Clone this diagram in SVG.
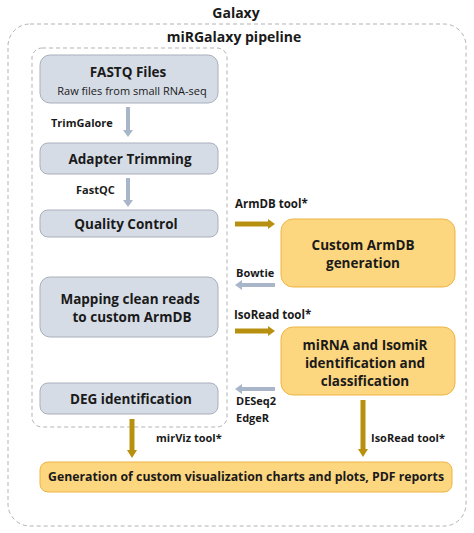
<svg xmlns="http://www.w3.org/2000/svg" width="474" height="533" viewBox="0 0 474 533">
<defs>
<style>
.t{font-family:"Open Sans","Liberation Sans",sans-serif;font-weight:bold;fill:#1a1a1a;text-anchor:middle}
.n{font-size:13.5px}
.l{font-family:"Open Sans","Liberation Sans",sans-serif;font-weight:bold;font-size:11px;fill:#1a1a1a}
.lr{font-size:11.5px}
.g rect{fill:#d6dce6;stroke:#a8b0bb;stroke-width:1}
.o rect{fill:#fdd680;stroke:#eeb443;stroke-width:1}
.dash{fill:none;stroke:#b3b3b3;stroke-width:1;stroke-dasharray:4 3}
.ga{stroke:#a9b6ca;stroke-width:4;fill:none}
.gh{fill:#a9b6ca}
.oa{stroke:#b8900f;stroke-width:5;fill:none}
.oh{fill:#b8900f}
</style>
</defs>
<rect width="474" height="533" fill="#ffffff"/>
<g id="galaxy">
<rect class="dash" x="8" y="24" width="458" height="502" rx="22"/>
<text class="t" x="236" y="18" font-size="14">Galaxy</text>
<text class="t" x="234" y="42" font-size="14">miRGalaxy pipeline</text>
</g>
<g id="pipeline">
<rect class="dash" x="32" y="48" width="195" height="379" rx="10"/>
</g>
<g id="fastq" class="g">
<rect x="40" y="55" width="178" height="48" rx="10"/>
<text class="t n" x="128" y="77">FASTQ Files</text>
<text x="132" y="95" font-family="'Open Sans','Liberation Sans',sans-serif" font-size="11" fill="#1a1a1a" text-anchor="middle">Raw files from small RNA-seq</text>
</g>
<g id="adapter" class="g">
<rect x="40" y="143" width="178" height="31" rx="8"/>
<text class="t n" x="130" y="164">Adapter Trimming</text>
</g>
<g id="qc" class="g">
<rect x="40" y="210" width="178" height="27" rx="8"/>
<text class="t n" x="126" y="229">Quality Control</text>
</g>
<g id="mapping" class="g">
<rect x="40" y="277" width="178" height="60" rx="10"/>
<text class="t n" x="130" y="304">Mapping clean reads</text>
<text class="t n" x="132" y="322">to custom ArmDB</text>
</g>
<g id="deg" class="g">
<rect x="40" y="383" width="178" height="31" rx="8"/>
<text class="t n" x="131" y="404">DEG identification</text>
</g>
<g id="armdb" class="o">
<rect x="281" y="219" width="174" height="68" rx="12"/>
<text class="t n" x="363" y="250">Custom ArmDB</text>
<text class="t n" x="363" y="268">generation</text>
</g>
<g id="isomir" class="o">
<rect x="281" y="327" width="174" height="68" rx="12"/>
<text class="t n" x="365" y="350">miRNA and IsomiR</text>
<text class="t n" x="365" y="368">identification and</text>
<text class="t n" x="365" y="386">classification</text>
</g>
<g id="report" class="o">
<rect x="40" y="462" width="412" height="30" rx="8"/>
<text class="t" x="246" y="481" font-size="12" textLength="396" lengthAdjust="spacingAndGlyphs">Generation of custom visualization charts and plots, PDF reports</text>
</g>
<g id="connectors">
<line class="ga" x1="128" y1="107" x2="128" y2="131"/>
<polygon class="gh" points="123,130 133,130 128,137"/>
<text class="l" x="51" y="127">TrimGalore</text>
<line class="ga" x1="128" y1="178" x2="128" y2="201"/>
<polygon class="gh" points="123,200 133,200 128,207"/>
<text class="l" x="76" y="194">FastQC</text>
<line class="oa" x1="235" y1="224" x2="269" y2="224"/>
<polygon class="oh" points="268,219 268,229 275,224"/>
<text class="l lr" x="235" y="208">ArmDB tool*</text>
<line class="ga" x1="275" y1="285" x2="241" y2="285"/>
<polygon class="gh" points="242,280 242,290 235,285"/>
<text class="l" x="236" y="277">Bowtie</text>
<line class="oa" x1="235" y1="331" x2="269" y2="331"/>
<polygon class="oh" points="268,326 268,336 275,331"/>
<text class="l lr" x="234" y="319">IsoRead tool*</text>
<line class="ga" x1="275" y1="389" x2="241" y2="389"/>
<polygon class="gh" points="242,384 242,394 235,389"/>
<text class="l" x="236" y="405">DESeq2</text>
<text class="l" x="236" y="422">EdgeR</text>
<line class="oa" x1="132" y1="419" x2="132" y2="451"/>
<polygon class="oh" points="127,450 137,450 132,458"/>
<text class="l" x="156" y="442">mirViz tool*</text>
<line class="oa" x1="363" y1="400" x2="363" y2="450"/>
<polygon class="oh" points="358,449 368,449 363,457"/>
<text class="l" x="371" y="442">IsoRead tool*</text>
</g>
</svg>
